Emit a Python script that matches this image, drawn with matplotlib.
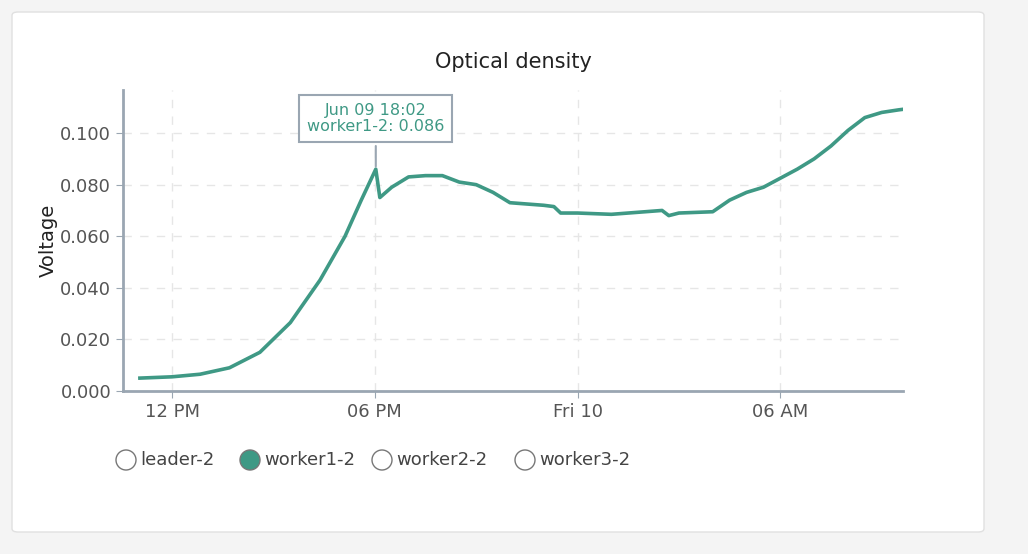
import matplotlib
matplotlib.use("Agg")
import matplotlib.pyplot as plt
from matplotlib.patches import FancyBboxPatch

# hours after Jun 09 12:00
hours = [-0.95, 0, 0.83, 1.7, 2.6, 3.5, 4.38, 5.12, 5.6, 6.03, 6.15, 6.5, 7.0, 7.5, 8.0, 8.5,
         9.0, 9.5, 10.0, 10.5, 11.0, 11.3, 11.5, 12.0, 13.0, 14.0, 14.5, 14.7, 15.0, 16.0,
         16.5, 17.0, 17.5, 18.0, 18.5, 19.0, 19.5, 20.0, 20.5, 21.0, 21.5, 21.8]
values = [0.005, 0.0055, 0.0065, 0.009, 0.015, 0.0265, 0.043, 0.060, 0.074, 0.086, 0.075, 0.079,
          0.083, 0.0835, 0.0835, 0.081, 0.080, 0.077, 0.073, 0.0725, 0.072, 0.0715, 0.069, 0.069,
          0.0685, 0.0695, 0.070, 0.068, 0.069, 0.0695, 0.074, 0.077, 0.079, 0.0825, 0.086,
          0.090, 0.095, 0.101, 0.106, 0.108, 0.109, 0.1095]
xtick_pos = [0, 6, 12, 18]
xtick_labels = ["12 PM", "06 PM", "Fri 10", "06 AM"]
yticks = [0.0, 0.02, 0.04, 0.06, 0.08, 0.10]
series = ["leader-2", "worker1-2", "worker2-2", "worker3-2"]

green = "#3f9985"
fig = plt.figure(figsize=(10.28, 5.54), dpi=100)
fig.patch.set_facecolor("#f4f4f4")
card = FancyBboxPatch((12/1028, 22/554), 972/1028, 520/554, boxstyle="round,pad=0,rounding_size=0.006",
                      transform=fig.transFigure, facecolor="white", edgecolor="#e0e0e0", lw=1, zorder=-10)
fig.patches.append(card)

ax = fig.add_axes([123/1028, 1-391/554, 780/1028, 301/554])
ax.set_facecolor("none")
ax.set_zorder(5)
ax.plot(hours, values, color=green, lw=2.6)
ax.set_xlim(-1.45, 21.63)
ax.set_ylim(0, 0.1167)
ax.set_xticks(xtick_pos, xtick_labels)
ax.set_yticks(yticks, [f"{v:.3f}" for v in yticks])
ax.grid(True, ls=(0, (6, 6)), color="#e6e6e6", lw=1)
for s in ["top", "right"]:
    ax.spines[s].set_visible(False)
for s in ["left", "bottom"]:
    ax.spines[s].set_color("#9aa6b2")
    ax.spines[s].set_linewidth(2)
ax.tick_params(colors="#9aa6b2", labelcolor="#555", labelsize=13, length=5)
ax.set_ylabel("Voltage", fontsize=14, color="#222", labelpad=2)
ax.set_title("Optical density", fontsize=15, color="#222", pad=16)

ax.annotate("Jun 09 18:02\nworker1-2: 0.086", xy=(6.03, 0.086), xytext=(6.03, 0.1055),
            ha="center", va="center", fontsize=11.5, color=green, linespacing=1.1,
            bbox=dict(boxstyle="square,pad=0.5", fc="white", ec="#9aa6b2", lw=1.5),
            arrowprops=dict(arrowstyle="-", color="#9aa6b2", lw=1.5))

xs = [126, 250, 382, 525]
for i, (x, name) in enumerate(zip(xs, series)):
    fc = green if name == "worker1-2" else "white"
    fig.patches.append(matplotlib.patches.Ellipse((x/1028, 1-460/554), 20/1028, 20/554,
                       transform=fig.transFigure, fc=fc, ec="#777", lw=1))
    fig.text((x+14)/1028, 1-460/554, name, fontsize=13, color="#444", va="center")

fig.savefig("out.png", dpi=100, facecolor=fig.get_facecolor())
